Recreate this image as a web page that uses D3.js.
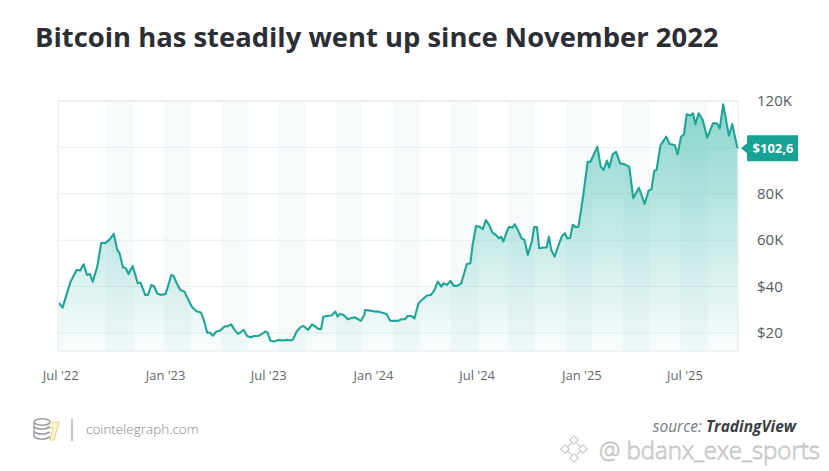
<!DOCTYPE html>
<html>
<head>
<meta charset="utf-8">
<script src="https://cdn.jsdelivr.net/npm/d3@7"></script>
<style>
  body { margin: 0; background: #fff; }
  svg text { font-family: 'Open Sans', sans-serif; }
</style>
</head>
<body>
<div id="chart-area"></div>
<script>
// price in thousands of USD
const dates = [
  '2022-06-29','2022-07-05','2022-07-19','2022-07-30','2022-08-05','2022-08-11','2022-08-17','2022-08-22','2022-08-27','2022-09-04',
  '2022-09-11','2022-09-18','2022-09-26','2022-10-03','2022-10-09','2022-10-13','2022-10-19','2022-10-24','2022-10-29','2022-11-05',
  '2022-11-14','2022-11-19','2022-11-27','2022-12-02','2022-12-08','2022-12-13','2022-12-18','2022-12-24','2023-01-02','2023-01-12',
  '2023-01-16','2023-01-22','2023-01-28','2023-02-04','2023-02-11','2023-02-17','2023-02-26','2023-03-05','2023-03-10','2023-03-16',
  '2023-03-21','2023-03-26','2023-04-01','2023-04-08','2023-04-15','2023-04-22','2023-04-27','2023-05-03','2023-05-09','2023-05-15',
  '2023-05-19','2023-05-25','2023-05-31','2023-06-07','2023-06-14','2023-06-20','2023-06-26','2023-06-30','2023-07-05','2023-07-12',
  '2023-07-19','2023-07-26','2023-08-03','2023-08-10','2023-08-14','2023-08-20','2023-08-28','2023-09-01','2023-09-09','2023-09-16',
  '2023-09-22','2023-09-27','2023-10-02','2023-10-06','2023-10-12','2023-10-20','2023-10-27','2023-10-31','2023-11-04','2023-11-10',
  '2023-11-18','2023-11-23','2023-11-30','2023-12-06','2023-12-11','2023-12-17','2023-12-18','2023-12-27','2024-01-05','2024-01-10',
  '2024-01-16','2024-01-25','2024-01-31','2024-02-07','2024-02-14','2024-02-20','2024-02-26','2024-03-02','2024-03-08','2024-03-14',
  '2024-03-21','2024-03-27','2024-04-05','2024-04-12','2024-04-18','2024-04-24','2024-04-30','2024-05-04','2024-05-10','2024-05-16',
  '2024-05-22','2024-05-28','2024-06-04','2024-06-10','2024-06-14','2024-06-20','2024-06-24','2024-06-30','2024-07-06','2024-07-12',
  '2024-07-17','2024-07-23','2024-07-29','2024-08-04','2024-08-09','2024-08-13','2024-08-17','2024-08-23','2024-08-27','2024-09-02',
  '2024-09-06','2024-09-12','2024-09-18','2024-09-23','2024-09-29','2024-10-06','2024-10-10','2024-10-15','2024-10-19','2024-10-27',
  '2024-11-01','2024-11-05','2024-11-09','2024-11-15','2024-11-21','2024-11-28','2024-12-03','2024-12-07','2024-12-12','2024-12-17',
  '2024-12-22','2024-12-27','2025-01-04','2025-01-12','2025-01-17','2025-01-29','2025-02-04','2025-02-09','2025-02-15','2025-02-19',
  '2025-02-25','2025-03-03','2025-03-10','2025-03-18','2025-03-26','2025-04-02','2025-04-12','2025-04-22','2025-04-29','2025-05-04',
  '2025-05-09','2025-05-13','2025-05-20','2025-05-30','2025-06-05','2025-06-14','2025-06-19','2025-06-25','2025-06-30','2025-07-05',
  '2025-07-12','2025-07-16','2025-07-20','2025-07-26','2025-08-02','2025-08-10','2025-08-20','2025-08-27','2025-09-01','2025-09-07',
  '2025-09-13','2025-09-17','2025-09-23','2025-10-02'
];
const prices = [
  32.8, 30.9, 42.1, 47.2, 46.9, 49.6, 45.0, 45.4, 42.1, 48.6,
  58.9, 58.7, 60.4, 62.7, 55.8, 54.4, 48.3, 47.9, 45.4, 48.9,
  41.4, 41.7, 36.4, 36.4, 40.7, 40.0, 37.1, 36.4, 36.8, 45.0,
  44.6, 41.1, 38.5, 37.8, 34.2, 31.3, 29.2, 28.8, 25.6, 20.1,
  20.1, 18.8, 20.6, 21.0, 22.7, 23.0, 23.7, 21.3, 19.6, 20.6,
  21.3, 18.7, 18.1, 18.7, 18.7, 19.6, 20.6, 20.1, 16.6, 16.3,
  17.0, 16.7, 17.0, 16.7, 17.3, 20.6, 22.7, 23.0, 21.3, 23.7,
  22.7, 21.7, 21.7, 27.0, 27.3, 27.5, 29.2, 27.0, 28.2, 27.8,
  25.9, 26.3, 26.7, 25.9, 25.2, 27.8, 29.9, 29.6, 29.2, 29.2,
  28.8, 28.2, 25.3, 25.2, 25.2, 25.9, 25.9, 27.3, 27.3, 26.3,
  32.8, 34.2, 36.1, 36.4, 38.5, 42.1, 40.0, 41.4, 40.7, 42.4,
  40.3, 40.3, 41.4, 46.4, 49.7, 50.0, 57.9, 66.1, 65.8, 64.8,
  68.7, 66.6, 63.2, 62.2, 60.8, 61.5, 59.4, 63.7, 65.8, 65.4,
  66.9, 64.1, 60.8, 60.1, 53.6, 59.4, 65.6, 65.6, 56.5, 56.8,
  56.8, 61.5, 55.8, 52.9, 57.2, 61.8, 63.0, 60.8, 60.8, 66.6,
  65.6, 65.8, 78.8, 93.8, 93.8, 100.3, 91.7, 90.3, 94.3, 91.3,
  97.0, 98.1, 93.1, 92.7, 91.7, 78.1, 82.6, 75.6, 81.3, 81.9,
  89.8, 90.3, 101.0, 104.6, 101.5, 101.0, 97.0, 104.6, 105.6, 114.3,
  113.7, 114.7, 110.0, 114.7, 111.8, 104.2, 110.4, 110.4, 108.2, 118.6,
  110.4, 105.0, 110.0, 99.6
];

const yTicks = [20, 40, 60, 80, 100, 120];
// the 100K label sits under the price tag, so it is left blank
const yTickLabels = ['$20', '$40', '60K', '80K', '', '120K'];
const xTicks = ['2022-07-01', '2023-01-01', '2023-07-01', '2024-01-01', '2024-07-01', '2025-01-01', '2025-07-01'];
const xTickLabels = ["Jul '22", "Jan '23", "Jul '23", "Jan '24", "Jul '24", "Jan '25", "Jul '25"];
const bandStarts = ['2022-09-20', '2022-12-30', '2023-04-09', '2023-07-19', '2023-10-28', '2024-02-06',
  '2024-05-17', '2024-08-25', '2024-12-04', '2025-03-15', '2025-06-24'];
const bandDays = 47;
const lastLabel = '$102,6';
const title = 'Bitcoin has steadily went up since November 2022';

function chart() {

  const width = 829;
  const height = 471;
  const margin = { top: 101, right: 91, bottom: 120, left: 58 };
  const plotW = width - margin.left - margin.right;
  const plotH = height - margin.top - margin.bottom;

  const teal = '#1fa595';
  const parse = d3.timeParse('%Y-%m-%d');

  const data = dates.map((d, i) => ({ date: parse(d), value: prices[i] }));

  const svg = d3.select('#chart-area')
    .append('svg')
    .attr('width', width)
    .attr('height', height);

  svg.append('text')
    .attr('x', 35)
    .attr('y', 47)
    .attr('font-size', 27.4)
    .attr('font-weight', 700)
    .attr('fill', '#2b2e34')
    .text(title);

  const defs = svg.append('defs');
  const grad = defs.append('linearGradient')
    .attr('id', 'areaFill')
    .attr('gradientUnits', 'userSpaceOnUse')
    .attr('x1', 0).attr('x2', 0)
    .attr('y1', 0).attr('y2', plotH);
  grad.append('stop').attr('offset', 0).attr('stop-color', '#3cb9ac').attr('stop-opacity', 0.6);
  grad.append('stop').attr('offset', 1).attr('stop-color', '#3cb9ac').attr('stop-opacity', 0.03);

  const g = svg.append('g')
    .attr('transform', 'translate(' + margin.left + ',' + margin.top + ')');

  const x = d3.scaleTime()
    .domain([parse('2022-06-27'), parse('2025-10-03')])
    .range([0, plotW]);

  const y = d3.scaleLinear()
    .domain([12.2, 120])
    .range([plotH, 0]);

  // soft vertical bands
  g.selectAll('.band')
    .data(bandStarts)
    .enter()
    .append('rect')
      .attr('class', 'band')
      .attr('x', d => x(parse(d)))
      .attr('y', 0)
      .attr('width', d => x(d3.timeDay.offset(parse(d), bandDays)) - x(parse(d)))
      .attr('height', plotH)
      .attr('fill', '#eef5f7')
      .attr('opacity', 0.55);

  // grid
  g.selectAll('.grid')
    .data(yTicks)
    .enter()
    .append('line')
      .attr('class', 'grid')
      .attr('x1', 0)
      .attr('x2', plotW)
      .attr('y1', d => y(d))
      .attr('y2', d => y(d))
      .attr('stroke', '#e9eef0')
      .attr('stroke-width', 1);

  const area = d3.area()
    .x(d => x(d.date))
    .y0(plotH)
    .y1(d => y(d.value));

  const line = d3.line()
    .x(d => x(d.date))
    .y(d => y(d.value));

  g.append('path')
    .datum(data)
    .attr('d', area)
    .attr('fill', 'url(#areaFill)');

  g.append('rect')
    .attr('width', plotW)
    .attr('height', plotH)
    .attr('fill', 'none')
    .attr('stroke', '#e2e8ea')
    .attr('stroke-width', 1);

  g.append('path')
    .datum(data)
    .attr('d', line)
    .attr('fill', 'none')
    .attr('stroke', teal)
    .attr('stroke-width', 2.1)
    .attr('stroke-linejoin', 'round');

  // axes
  const yAxis = d3.axisRight(y)
    .tickValues(yTicks)
    .tickFormat((d, i) => yTickLabels[i])
    .tickSize(0)
    .tickPadding(19);

  const yAxisGroup = g.append('g')
    .attr('transform', 'translate(' + plotW + ',0)')
    .call(yAxis);
  yAxisGroup.select('.domain').remove();
  yAxisGroup.selectAll('text')
    .attr('font-family', "'Open Sans', sans-serif")
    .attr('font-size', 15)
    .attr('fill', '#555b60');

  const xAxis = d3.axisBottom(x)
    .tickValues(xTicks.map(parse))
    .tickFormat((d, i) => xTickLabels[i])
    .tickSize(0)
    .tickPadding(20);

  const xAxisGroup = g.append('g')
    .attr('transform', 'translate(0,' + plotH + ')')
    .call(xAxis);
  xAxisGroup.select('.domain').remove();
  xAxisGroup.selectAll('text')
    .attr('font-family', "'Open Sans', sans-serif")
    .attr('font-size', 13)
    .attr('fill', '#63686d');

  // last price tag
  const last = data[data.length - 1];
  const ty = y(last.value);
  const tx = plotW + 3;
  const tag = g.append('g').attr('transform', 'translate(' + tx + ',' + ty + ')');
  tag.append('path')
    .attr('d', 'M0,0 L6,-5 L6,-12 Q6,-13 7,-13 L57,-13 L57,13 L7,13 Q6,13 6,12 L6,5 Z')
    .attr('fill', '#17a394');
  tag.append('text')
    .attr('x', 32)
    .attr('y', 0)
    .attr('dy', '0.35em')
    .attr('text-anchor', 'middle')
    .attr('font-size', 13)
    .attr('font-weight', 700)
    .attr('fill', '#fff')
    .text(lastLabel);

  // footer: logo (coin stack)
  const logo = svg.append('g').attr('transform', 'translate(33,418)');
  logo.append('path')
    .attr('d', 'M14,4 L26,4 L21,22 L17,22 L20,10 L15,10 Z')
    .attr('fill', '#fbf5d6')
    .attr('stroke', '#e6d784')
    .attr('stroke-width', 1.2);
  logo.append('ellipse')
    .attr('cx', 9).attr('cy', 4).attr('rx', 8).attr('ry', 3.2)
    .attr('fill', '#fff').attr('stroke', '#9a9ea3').attr('stroke-width', 1.4);
  [9, 14, 19].forEach(dy => {
    logo.append('path')
      .attr('d', 'M1,' + dy + ' q8,4.5 16,0')
      .attr('fill', 'none')
      .attr('stroke', '#9a9ea3')
      .attr('stroke-width', 1.5);
  });
  logo.append('line')
    .attr('x1', 1).attr('x2', 1).attr('y1', 4).attr('y2', 19)
    .attr('stroke', '#9a9ea3').attr('stroke-width', 1.4);

  svg.append('line')
    .attr('x1', 72).attr('x2', 72)
    .attr('y1', 419).attr('y2', 441)
    .attr('stroke', '#9a9ea3')
    .attr('stroke-width', 1.2);

  svg.append('text')
    .attr('x', 86)
    .attr('y', 434)
    .attr('font-family', 'Roboto, sans-serif')
    .attr('font-size', 13.5)
    .attr('font-weight', 300)
    .attr('fill', '#82878c')
    .text('cointelegraph.com');

  const src = svg.append('text')
    .attr('x', 796)
    .attr('y', 432)
    .attr('text-anchor', 'end')
    .attr('font-size', 15.5)
    .attr('font-style', 'italic');
  src.append('tspan').attr('fill', '#777c82').text('source: ');
  src.append('tspan').attr('fill', '#3a3e44').attr('font-weight', 700).text('TradingView');

  // watermark
  const wm = svg.append('g').attr('transform', 'translate(574,449)');
  [[0, 0, 6], [0, -9, 3], [0, 9, 3], [-9, 0, 3], [9, 0, 3]].forEach(s => {
    wm.append('rect')
      .attr('x', s[0] - s[2]).attr('y', s[1] - s[2])
      .attr('width', s[2] * 2).attr('height', s[2] * 2)
      .attr('transform', 'rotate(45,' + s[0] + ',' + s[1] + ')')
      .attr('fill', '#fff')
      .attr('stroke', '#cacaca')
      .attr('stroke-width', 1.2);
  });
  svg.append('text')
    .attr('x', 820)
    .attr('y', 459)
    .attr('text-anchor', 'end')
    .attr('font-family', "'Open Sans', sans-serif")
    .attr('font-size', 24)
    .attr('font-weight', 300)
    .attr('fill', '#f4f4f4')
    .attr('stroke', '#c2c2c2')
    .attr('stroke-width', 0.8)
    .text('@ bdanx_exe_sports');
}

chart();
</script>
</body>
</html>
